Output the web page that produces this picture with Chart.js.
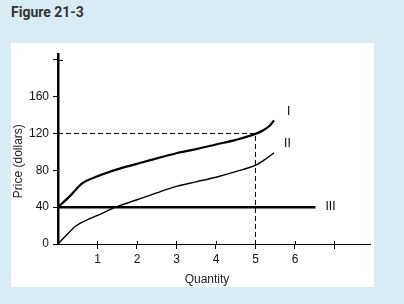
<!DOCTYPE html>
<html>
<head>
<meta charset="utf-8">
<script src="https://cdn.jsdelivr.net/npm/chart.js@4.4.1/dist/chart.umd.min.js"></script>
<style>
  html, body { margin: 0; padding: 0; }
  body { width: 404px; height: 304px; background: #d9ecf5; position: relative; overflow: hidden; }
  #title { position: absolute; left: 11px; top: 4px; font: bold 14px Roboto, 'Liberation Sans', Arial, sans-serif; line-height: 16px; color: #333; }
  #panel { position: absolute; left: 11px; top: 43px; width: 363px; height: 244px; background: #fff; }
  canvas { display: block; }
</style>
</head>
<body>
<div id="title">Figure 21-3</div>
<div id="panel"><canvas id="c" width="363" height="244"></canvas></div>
<script>
// ---- data ----
const qI   = [0, 0.3, 0.62, 1.0, 1.5, 2.0, 2.5, 3.0, 3.5, 4.0, 4.5, 5.0, 5.2, 5.35, 5.47];
const pI   = [40, 52, 66, 73.5, 81, 87, 93, 98.5, 103, 108, 113, 119.5, 123.5, 128, 134];
const qII  = [0, 0.2, 0.45, 0.7, 1.0, 1.46, 2.0, 2.5, 3.0, 3.5, 4.0, 4.5, 5.0, 5.25, 5.47];
const pII  = [0, 9, 19.5, 25.5, 31, 40, 48, 55.5, 62.5, 67.5, 72.5, 78.5, 85.5, 92, 99];
const qIII = [0, 6.52];
const pIII = [40, 40];
const dashQ = [0, 5, 5];
const dashP = [120, 120, 0];
const curveNames = ['I', 'II', 'III'];
const curveLabelQ = [5.84, 5.81, 6.9];
const curveLabelP = [144, 108.8, 40];
const xTickValues = [1, 2, 3, 4, 5, 6, 7];
const xTickLabels = ['1', '2', '3', '4', '5', '6', ''];
const yTickValues = [0, 40, 80, 120, 160, 200];
const yTickLabels = ['0', '40', '80', '120', '160', ''];
const xTitle = 'Quantity';
const yTitle = 'Price (dollars)';

const pts = (qs, ps) => qs.map((q, i) => ({ x: q, y: ps[i] }));

const tickFont = { family: "'Liberation Sans', Arial, sans-serif", size: 12 };
const textFont = "12px 'Liberation Sans', Arial, sans-serif";

const extras = {
  id: 'extras',
  afterDraw(chart) {
    const ctx = chart.ctx;
    const xs = chart.scales.x, ys = chart.scales.y;
    const area = chart.chartArea;
    ctx.save();
    ctx.strokeStyle = '#000';
    ctx.lineWidth = 1;
    // x ticks crossing above the axis
    xTickValues.forEach(v => {
      const px = Math.round(xs.getPixelForValue(v)) + 0.5;
      ctx.beginPath();
      ctx.moveTo(px, area.bottom - 3);
      ctx.lineTo(px, area.bottom);
      ctx.stroke();
    });
    // top y tick crosses the axis
    const ty = Math.round(ys.getPixelForValue(200)) + 0.5;
    ctx.beginPath();
    ctx.moveTo(area.left, ty);
    ctx.lineTo(area.left + 5, ty);
    ctx.stroke();
    // curve labels
    ctx.fillStyle = '#000';
    ctx.font = textFont;
    ctx.textAlign = 'center';
    ctx.textBaseline = 'middle';
    curveNames.forEach((n, i) => {
      ctx.fillText(n, xs.getPixelForValue(curveLabelQ[i]), ys.getPixelForValue(curveLabelP[i]));
    });
    // axis titles
    ctx.fillStyle = '#222';
    ctx.fillText(xTitle, area.left + 149, area.bottom + 35.5);
    ctx.translate(8, area.top + 107);
    ctx.rotate(-Math.PI / 2);
    ctx.fillText(yTitle, 0, 0);
    ctx.restore();
  }
};

new Chart(document.getElementById('c'), {
  type: 'scatter',
  data: {
    datasets: [
      { label: 'I', data: pts(qI, pI), showLine: true, borderColor: '#000', borderWidth: 2.2, pointRadius: 0, cubicInterpolationMode: 'monotone' },
      { label: 'II', data: pts(qII, pII), showLine: true, borderColor: '#000', borderWidth: 1.4, pointRadius: 0, cubicInterpolationMode: 'monotone' },
      { label: 'III', data: pts(qIII, pIII), showLine: true, borderColor: '#000', borderWidth: 2.5, pointRadius: 0 },
      { label: 'guide', data: pts(dashQ, dashP), showLine: true, borderColor: '#000', borderWidth: 1, borderDash: [5, 3], pointRadius: 0, tension: 0 }
    ]
  },
  options: {
    responsive: false,
    animation: false,
    devicePixelRatio: 1,
    layout: { padding: { top: 3, right: 4, left: 0, bottom: 0 } },
    plugins: { legend: { display: false }, tooltip: { enabled: false }, title: { display: false } },
    scales: {
      x: {
        type: 'linear',
        min: 0, max: 7.9,
        afterBuildTicks: s => { s.ticks = xTickValues.map(v => ({ value: v })); },
        afterFit: s => { s.height = 43; },
        grid: { drawOnChartArea: false, tickLength: 5, color: '#000', lineWidth: 1 },
        border: { display: true, color: '#000', width: 1 },
        ticks: { color: '#111', font: tickFont, padding: 3, maxRotation: 0, autoSkip: false,
                 callback: (v, i) => xTickLabels[i] }
      },
      y: {
        type: 'linear',
        min: 0, max: 206,
        afterBuildTicks: s => { s.ticks = yTickValues.map(v => ({ value: v })); },
        afterFit: s => { s.width = 47; },
        grid: { drawOnChartArea: false, tickLength: 5, color: '#000', lineWidth: 1 },
        border: { display: true, color: '#000', width: 2.5 },
        ticks: { color: '#111', font: tickFont, padding: 4, autoSkip: false,
                 callback: (v, i) => yTickLabels[i] }
      }
    }
  },
  plugins: [extras]
});
</script>
</body>
</html>
